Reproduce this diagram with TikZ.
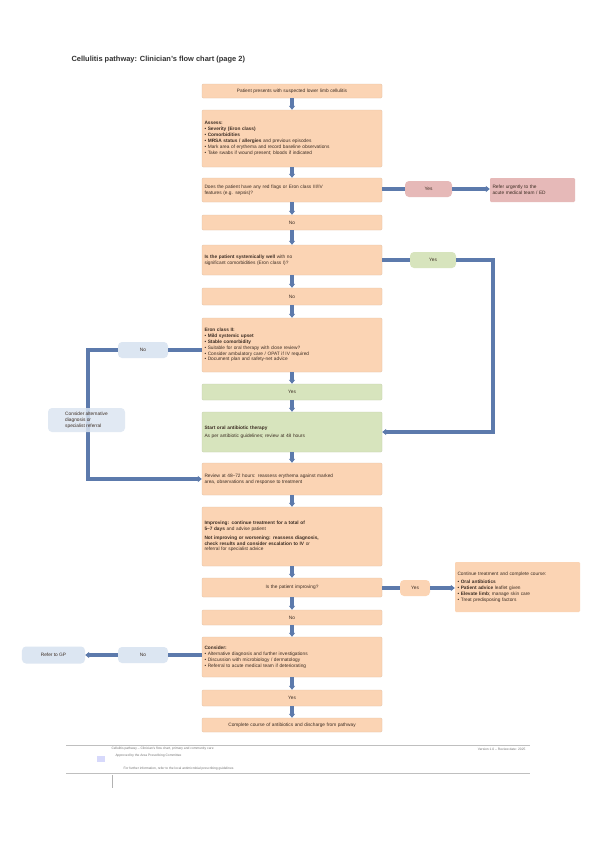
\documentclass[tikz,border=0pt]{standalone}
\usepackage{fontspec}
\setmainfont{Liberation Sans}
\usetikzlibrary{arrows.meta}
\definecolor{ofill}{RGB}{251,212,180}
\definecolor{gfill}{RGB}{215,228,189}
\definecolor{pfill}{RGB}{230,185,184}
\definecolor{bfill}{RGB}{220,230,242}
\definecolor{conn}{RGB}{92,122,172}
\definecolor{txt}{RGB}{60,45,35}
\tikzset{
  box/.style={rectangle, rounded corners=1.2bp, inner sep=2.5bp, text=txt,
    font=\fontsize{4.8}{5.9}\selectfont, align=left},
  obox/.style={box, fill=ofill, draw=ofill!85!black!60!ofill},
  gbox/.style={box, fill=gfill, draw=gfill!85!black!60!gfill},
  tag/.style={rectangle, rounded corners=4bp, inner sep=1bp, text=txt,
    font=\fontsize{4.8}{5.9}\selectfont, align=center},
  link/.style={draw=conn, line width=3.8bp},
  arr/.style={link, -{Triangle[length=4bp,width=6bp]}},
}
\begin{document}
\begin{tikzpicture}[x=1bp,y=-1bp]
\useasboundingbox (0,0) rectangle (595,842);
\fill[white] (0,0) rectangle (595,842);
% title
\node[anchor=west, font=\bfseries\fontsize{7.5}{9}\selectfont, text=black!80] (title) at (68,60) {Cellulitis pathway: Clinician's flow chart (page 2)};
% main column
\node[obox, minimum width=180bp, minimum height=14bp, text width=175bp, align=center] (b1) at (292,91) {Patient presents with suspected lower limb cellulitis};
\node[obox, minimum width=180bp, minimum height=57bp, text width=175bp] (b2) at (292,138.5) {\textbf{Assess:}\\\textbf{• Severity (Eron class)}\\\textbf{• Comorbidities}\\\textbf{• MRSA status / allergies} and previous episodes\\• Mark area of erythema and record baseline observations\\• Take swabs if wound present; bloods if indicated};
\node[obox, minimum width=180bp, minimum height=24bp, text width=175bp] (b3) at (292,190) {Does the patient have any red flags or Eron class III/IV\\features (e.g. sepsis)?};
\node[obox, minimum width=180bp, minimum height=15bp, text width=175bp, align=center] (b4) at (292,222.5) {No};
\node[obox, minimum width=180bp, minimum height=30bp, text width=175bp] (b5) at (292,260) {\textbf{Is the patient systemically well} with no\\significant comorbidities (Eron class I)?};
\node[obox, minimum width=180bp, minimum height=17bp, text width=175bp, align=center] (b6) at (292,296.5) {No};
\node[obox, minimum width=180bp, minimum height=54bp, text width=175bp] (b7) at (292,345) {\textbf{Eron class II:}\\\textbf{• Mild systemic upset}\\\textbf{• Stable comorbidity}\\• Suitable for oral therapy with close review?\\• Consider ambulatory care / OPAT if IV required\\• Document plan and safety-net advice};
\node[gbox, minimum width=180bp, minimum height=16bp, text width=175bp, align=center] (b8) at (292,392) {Yes};
\node[gbox, minimum width=180bp, minimum height=40bp, text width=175bp] (b9) at (292,432) {\textbf{Start oral antibiotic therapy}\\[2bp]As per antibiotic guidelines; review at 48 hours};
\node[obox, minimum width=180bp, minimum height=32bp, text width=175bp] (b10) at (292,479) {Review at 48--72 hours: reassess erythema against marked\\area, observations and response to treatment};
\node[obox, minimum width=180bp, minimum height=59bp, text width=175bp] (b11) at (292,536.5) {\textbf{Improving: continue treatment for a total of}\\\textbf{5--7 days} and advise patient\\[3bp]\textbf{Not improving or worsening: reassess diagnosis,}\\\textbf{check results and consider escalation to IV} or\\referral for specialist advice};
\node[obox, minimum width=180bp, minimum height=19bp, text width=175bp, align=center] (b12) at (292,587.5) {Is the patient improving?};
\node[obox, minimum width=180bp, minimum height=15bp, text width=175bp, align=center] (b13) at (292,617.5) {No};
\node[obox, minimum width=180bp, minimum height=40bp, text width=175bp] (b14) at (292,657) {\textbf{Consider:}\\• Alternative diagnosis and further investigations\\• Discussion with microbiology / dermatology\\• Referral to acute medical team if deteriorating};
\node[obox, minimum width=180bp, minimum height=16bp, text width=175bp, align=center] (b15) at (292,698) {Yes};
\node[obox, minimum width=180bp, minimum height=14bp, text width=175bp, align=center] (b16) at (292,725) {Complete course of antibiotics and discharge from pathway};
% side nodes
\node[tag, fill=pfill, minimum width=47bp, minimum height=16bp] (pyes) at (428.5,189) {Yes};
\node[box, fill=pfill, minimum width=85bp, minimum height=24bp, text width=80bp] (pbox) at (532.5,190) {Refer urgently to the\\acute medical team / ED};
\node[tag, fill=gfill, minimum width=46bp, minimum height=16bp] (gyes) at (433,260) {Yes};
\node[tag, fill=bfill, minimum width=50bp, minimum height=16bp] (nol1) at (143,350) {No};
\node[tag, fill=ofill, minimum width=30bp, minimum height=16bp] (oyes) at (415,588) {Yes};
\node[box, fill=ofill, minimum width=125bp, minimum height=50bp, text width=120bp] (rbox) at (517.5,587) {Continue treatment and complete course:\\[2bp]\textbf{• Oral antibiotics}\\\textbf{• Patient advice} leaflet given\\\textbf{• Elevate limb}; manage skin care\\• Treat predisposing factors};
\node[tag, fill=bfill, minimum width=50bp, minimum height=16bp] (nol2) at (143,655) {No};
\node[tag, fill=bfill, minimum width=63bp, minimum height=17bp] (fleft) at (53.5,655) {Refer to GP};
% connectors
\foreach \a/\b in {b1/b2,b2/b3,b3/b4,b4/b5,b5/b6,b6/b7,b7/b8,b8/b9,b9/b10,b10/b11,b11/b12,b12/b13,b13/b14,b14/b15,b15/b16}
  \draw[arr] (\a.south) -- (\b.north);
\draw[link] (pyes.west -| b3.east) -- (pyes.west);
\draw[arr] (pyes.east) -- (pyes.east -| pbox.west);
\draw[link] (gyes.west -| b5.east) -- (gyes.west);
\coordinate (rtop) at (493,260);
\coordinate (rbot) at (493,432);
\draw[arr] (gyes.east) -- (rtop) -- (rbot) -- (b9.east);
\draw[link] (nol1.east -| b7.west) -- (nol1.east);
\coordinate (ltop) at (88,350);
\coordinate (lbot) at (88,479);
\draw[arr] (nol1.west) -- (ltop) -- (lbot) -- (b10.west);
\node[tag, fill=bfill, fill opacity=0.85, text opacity=1, minimum width=77bp, minimum height=24bp, align=left] (lblue) at (86.5,420) {Consider alternative\\diagnosis or\\specialist referral};
\draw[link] (oyes.west -| b12.east) -- (oyes.west);
\draw[arr] (oyes.east) -- (oyes.east -| rbox.west);
\draw[link] (nol2.east -| b14.west) -- (nol2.east);
\draw[arr] (nol2.west) -- (fleft.east);
% footer
\draw[black!25, line width=0.8bp] (66,745) -- (530,745);
\draw[black!25, line width=0.8bp] (66,773) -- (530,773);
\node[anchor=west, font=\fontsize{3.3}{4}\selectfont, text=black!55] (f1) at (108,749) {Cellulitis pathway -- Clinician's flow chart, primary and community care};
\node[anchor=east, font=\fontsize{3.3}{4}\selectfont, text=black!55] (f2) at (529,749) {Version 1.0 -- Review date: 2025};
\node[anchor=west, font=\fontsize{3.3}{4}\selectfont, text=black!55] (f3) at (112,756) {Approved by the Area Prescribing Committee};
\node[fill=bfill!70!blue!40, minimum width=8bp, minimum height=6bp, inner sep=0] (logo) at (101,759) {};
\node[anchor=west, font=\fontsize{3.3}{4}\selectfont, text=black!55] (f4) at (120,769) {For further information, refer to the local antimicrobial prescribing guidelines};
\draw[black!30, line width=1bp] (112,775) -- (112,788);
\end{tikzpicture}
\end{document}
